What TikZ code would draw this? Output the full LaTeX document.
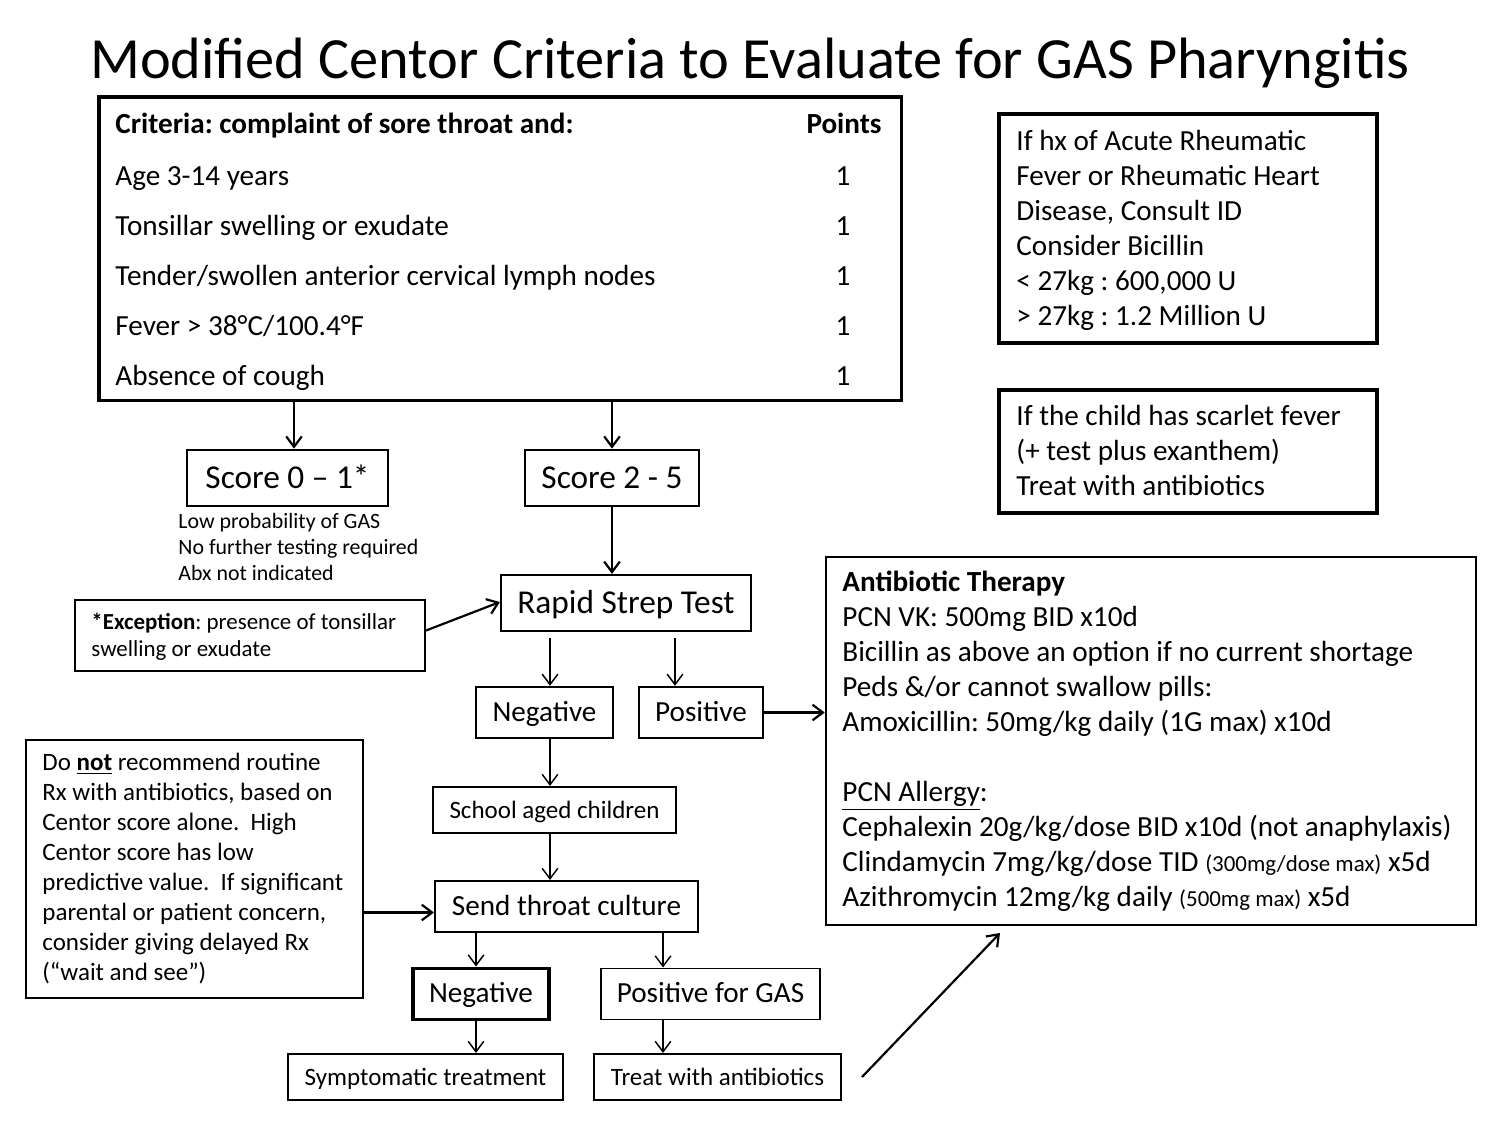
\documentclass[tikz,border=0pt]{standalone}
\usepackage{fontspec}
\setmainfont{Carlito}
\frenchspacing
\usetikzlibrary{arrows.meta,fit,calc}
\begin{document}
\begin{tikzpicture}[x=0.48pt,y=-0.48pt,
  bx/.style={draw, inner sep=0pt, line width=#1},
  bx/.default=1pt,
  sz/.style 2 args={minimum width=#1*0.48pt, minimum height=#2*0.48pt},
  tx/.style={inner sep=0pt, anchor=base west},
  f16/.style={font=\fontsize{16}{19.2}\selectfont, text height=10.3pt, text depth=0pt},
  f14/.style={font=\fontsize{14}{16.8}\selectfont, text height=9pt, text depth=0pt},
  f12/.style={font=\fontsize{12}{14.4}\selectfont, text height=7.7pt, text depth=0pt},
  s14/.style={font=\fontsize{14}{16.8}\selectfont},
  s12/.style={font=\fontsize{12}{14.4}\selectfont},
  s11/.style={font=\fontsize{11}{13.2}\selectfont},
  s105/.style={font=\fontsize{10.5}{12.6}\selectfont},
  tip/.tip={Straight Barb[length=5pt,width=7.5pt]},
  arr/.style={line width=1.05pt, -tip},
  tarr/.style={line width=0.7pt, -tip},
]
\useasboundingbox (0,0) rectangle (1500,1125);

% title
\node[inner sep=0pt, anchor=base, font=\fontsize{28}{33.6}\selectfont] (title) at (750,78)
  {Modified Centor Criteria to Evaluate for GAS Pharyngitis};

% criteria table
\node[bx=1.45pt, fit={(99,97)(901,400)}] (crit) {};
\node[tx, s14] (h1) at (115,133) {\bfseries Criteria: complaint of sore throat and:};
\node[tx, s14, anchor=base] (h2) at (844,133) {\bfseries Points};
\node[tx, s14] (r1) at (115,185) {Age 3-14 years};
\node[tx, s14] (r2) at (115,235) {Tonsillar swelling or exudate};
\node[tx, s14] (r3) at (115,285) {Tender/swollen anterior cervical lymph nodes};
\node[tx, s14] (r4) at (115,335) {Fever > 38°C/100.4°F};
\node[tx, s14] (r5) at (115,385) {Absence of cough};
\node[tx, s14, anchor=base] (p1) at (843,185) {1};
\node[tx, s14, anchor=base] (p2) at (843,235) {1};
\node[tx, s14, anchor=base] (p3) at (843,285) {1};
\node[tx, s14, anchor=base] (p4) at (843,335) {1};
\node[tx, s14, anchor=base] (p5) at (843,385) {1};

% right info boxes
\node[bx=1.9pt, fit={(999,114)(1377,343)}] (rf) {};
\node[tx, s14] (rf1) at (1016,150) {If hx of Acute Rheumatic};
\node[tx, s14] (rf2) at (1016,185) {Fever or Rheumatic Heart};
\node[tx, s14] (rf3) at (1016,220) {Disease, Consult ID};
\node[tx, s14] (rf4) at (1016,255) {Consider Bicillin};
\node[tx, s14] (rf5) at (1016,290) {< 27kg : 600,000 U};
\node[tx, s14] (rf6) at (1016,325) {> 27kg : 1.2 Million U};

\node[bx=1.9pt, fit={(999,390)(1377,513)}] (sf) {};
\node[tx, s14] (sf1) at (1016,425) {If the child has scarlet fever};
\node[tx, s14] (sf2) at (1016,460) {(+ test plus exanthem)};
\node[tx, s14] (sf3) at (1016,495) {Treat with antibiotics};

% scores
\node[bx=1.35pt, f16, sz={201}{56}] (s01) at (287.5,478) {Score 0 – 1*};
\node[bx=1.35pt, f16, sz={174}{56}] (s25) at (612,478) {Score 2 - 5};
\node[tx, s105] (lp1) at (178,528) {Low probability of GAS};
\node[tx, s105] (lp2) at (178,554) {No further testing required};
\node[tx, s105] (lp3) at (178,580) {Abx not indicated};

% exception
\node[bx=1pt, fit={(75,600)(425,671)}] (exc) {};
\node[tx, s11] (ex1) at (91,629) {\textbf{*Exception}: presence of tonsillar};
\node[tx, s11] (ex2) at (91,656) {swelling or exudate};

% rapid strep
\node[bx=1.1pt, f16, sz={250}{56}] (rapid) at (626,603) {Rapid Strep Test};
\node[bx=1.2pt, f14, sz={137}{51}] (neg) at (544.5,712.5) {Negative};
\node[bx=1.2pt, f14, sz={124}{51}] (pos) at (701,712.5) {Positive};

% antibiotic therapy
\node[bx=1.2pt, fit={(826,557)(1476,925)}] (ab) {};
\node[tx, s14] (ab1) at (842,591) {\bfseries Antibiotic Therapy};
\node[tx, s14] (ab2) at (842,626) {PCN VK: 500mg BID x10d};
\node[tx, s14] (ab3) at (842,661) {Bicillin as above an option if no current shortage};
\node[tx, s14] (ab4) at (842,696) {Peds \&/or cannot swallow pills:};
\node[tx, s14] (ab5) at (842,731) {Amoxicillin: 50mg/kg daily (1G max) x10d};
\node[tx, s14] (ab6) at (842,801) {\underline{PCN Allergy}:};
\node[tx, s14] (ab7) at (842,836) {Cephalexin 20g/kg/dose BID x10d (not anaphylaxis)};
\node[tx, s14] (ab8) at (842,871) {Clindamycin 7mg/kg/dose TID {\fontsize{11}{13}\selectfont (300mg/dose max)} x5d};
\node[tx, s14] (ab9) at (842,906) {Azithromycin 12mg/kg daily {\fontsize{11}{13}\selectfont (500mg max)} x5d};

% lower flow
\node[bx=1pt, f12, sz={243}{46}] (school) at (554.5,810) {School aged children};
\node[bx=1pt, f14, sz={263}{51}] (send) at (566.5,906.5) {Send throat culture};
\node[bx=1.45pt, f14, sz={136}{51}] (neg2) at (481,993.5) {Negative};
\node[bx=0.5pt, f14, sz={219}{51}] (posgas) at (710.5,993.5) {Positive for GAS};
\node[bx=1pt, f12, sz={275}{46}] (symp) at (425.5,1077) {Symptomatic treatment};
\node[bx=1pt, f12, sz={247}{46}] (treat) at (717.5,1077) {Treat with antibiotics};

% do not box
\node[bx=1.2pt, fit={(26,740)(363,998)}] (donot) {};
\node[tx, s12] (dn1) at (42,770) {Do \underline{\textbf{not}} recommend routine};
\node[tx, s12] (dn2) at (42,800) {Rx with antibiotics, based on};
\node[tx, s12] (dn3) at (42,830) {Centor score alone.\ \ High};
\node[tx, s12] (dn4) at (42,860) {Centor score has low};
\node[tx, s12] (dn5) at (42,890) {predictive value.\ \ If significant};
\node[tx, s12] (dn6) at (42,920) {parental or patient concern,};
\node[tx, s12] (dn7) at (42,950) {consider giving delayed Rx};
\node[tx, s12] (dn8) at (42,980) {(“wait and see”)};

\coordinate (d1) at (862,1077);
\coordinate (d2) at (1000,933);

% connectors
\draw[arr] ([shift={(6.5,0)}]s01.north |- crit.south) -- ([shift={(6.5,0)}]s01.north);
\draw[arr] (s25.north |- crit.south) -- (s25.north);
\draw[arr] (s25.south) -- (s25.south |- rapid.north);
\draw[arr] (exc.east) ++(0,-5) -- ([shift={(0,-1)}]rapid.west);
\draw[tarr] ([shift={(5.5,6)}]neg.north |- rapid.south) -- ([shift={(5.5,0)}]neg.north);
\draw[tarr] ([shift={(-26,6)}]pos.north |- rapid.south) -- ([shift={(-26,0)}]pos.north);
\draw[arr] (pos.east) -- (pos.east -| ab.west);
\draw[tarr] ([shift={(5.5,0)}]neg.south) -- ([shift={(5.5,0)}]neg.south |- school.north);
\draw[tarr] ([shift={(5.5,0)}]neg.south |- school.south) -- ([shift={(5.5,0)}]neg.south |- send.north);
\draw[arr] ([shift={(0,6)}]send.west -| donot.east) -- ([shift={(0,6)}]send.west);
\draw[tarr] ([shift={(-5,0)}]neg2.north |- send.south) -- ([shift={(-5,0)}]neg2.north);
\draw[tarr] ([shift={(-47.5,0)}]posgas.north |- send.south) -- ([shift={(-47.5,0)}]posgas.north);
\draw[tarr] ([shift={(-5,0)}]neg2.south) -- ([shift={(-5,0)}]neg2.south |- symp.north);
\draw[tarr] ([shift={(-47.5,0)}]posgas.south) -- ([shift={(-47.5,0)}]posgas.south |- treat.north);
\draw[arr] (d1) -- (d2);
\end{tikzpicture}
\end{document}
